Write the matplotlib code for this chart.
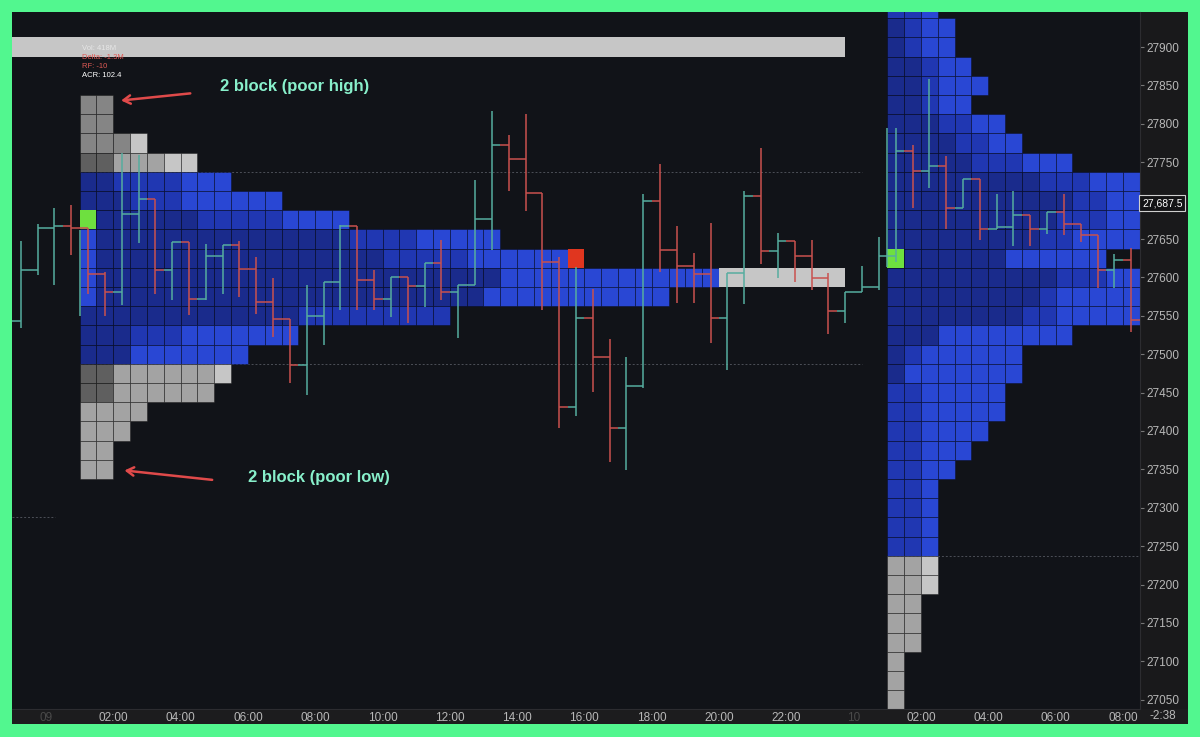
import numpy as np
import matplotlib
matplotlib.use("Agg")
import matplotlib.pyplot as plt
from matplotlib.patches import Rectangle

plt.rcParams['font.family'] = ['Liberation Sans', 'DejaVu Sans']

# ? Data ------------------------------------------------------------------
# 30 minute bars, hours counted from 00:00 on the 9th
bar_time = np.arange(-0.75, 32.5, 0.5)
opens = [27543, 27609, 27664, 27667, 27664, 27604, 27581, 27683, 27702, 27610, 27646, 27572,
         27628, 27642, 27611, 27568, 27546, 27486, 27550, 27594, 27667, 27597, 27572, 27600,
         27589, 27619, 27581, 27590, 27676, 27772, 27754, 27710, 27620, 27431, 27547, 27497,
         27404, 27458, 27700, 27636, 27615, 27605, 27547, 27606, 27706, 27634, 27647, 27628,
         27599, 27556, 27581, 27588, 27628, 27765, 27738, 27745, 27691, 27728, 27663, 27665,
         27681, 27663, 27685, 27669, 27655, 27610, 27623]
highs = [27647, 27670, 27690, 27694, 27664, 27607, 27762, 27759, 27702, 27646, 27646, 27643,
         27642, 27648, 27626, 27599, 27546, 27590, 27594, 27668, 27667, 27610, 27600, 27600,
         27619, 27649, 27590, 27727, 27817, 27786, 27813, 27710, 27627, 27614, 27585, 27520,
         27497, 27709, 27748, 27667, 27632, 27671, 27606, 27713, 27769, 27658, 27647, 27649,
         27606, 27581, 27615, 27652, 27795, 27773, 27858, 27758, 27728, 27728, 27709, 27713,
         27681, 27685, 27709, 27669, 27655, 27630, 27638]
lows = [27534, 27603, 27590, 27629, 27579, 27550, 27564, 27645, 27579, 27571, 27551, 27570,
        27579, 27575, 27553, 27523, 27462, 27447, 27512, 27558, 27557, 27557, 27549, 27541,
        27562, 27571, 27521, 27590, 27636, 27712, 27686, 27558, 27404, 27419, 27451, 27360,
        27349, 27456, 27607, 27567, 27567, 27515, 27479, 27565, 27618, 27599, 27594, 27584,
        27526, 27541, 27581, 27584, 27620, 27690, 27716, 27663, 27690, 27649, 27663, 27641,
        27641, 27657, 27655, 27646, 27586, 27586, 27529]
closes = [27609, 27664, 27667, 27664, 27604, 27581, 27683, 27702, 27610, 27646, 27572, 27628,
          27642, 27611, 27568, 27546, 27486, 27550, 27594, 27667, 27597, 27572, 27600, 27589,
          27619, 27581, 27590, 27676, 27772, 27754, 27710, 27620, 27431, 27547, 27497, 27404,
          27458, 27700, 27636, 27615, 27605, 27547, 27606, 27706, 27634, 27647, 27628, 27599,
          27556, 27581, 27588, 27628, 27765, 27738, 27745, 27691, 27728, 27663, 27665, 27681,
          27663, 27685, 27669, 27655, 27610, 27623, 27544]

# session open prints (time, low, high)
open_print_time = [1.0, 25.0]
open_print_low = [27550, 27614]
open_print_high = [27662, 27795]

# TPO profiles: row prices and run-length shading (level, count), level 3 = darkest
p1_start = 1.0
p1_val, p1_vah = 27487.5, 27737.5
p1_rows = [27825, 27800, 27775, 27750, 27725, 27700, 27675, 27650, 27625, 27600,
           27575, 27550, 27525, 27500, 27475, 27450, 27425, 27400, 27375, 27350]
p1_runs = [[(2, 2)], [(2, 2)], [(2, 3), (0, 1)], [(3, 2), (1, 3), (0, 2)],
           [(2, 2), (1, 4), (0, 3)], [(2, 3), (1, 3), (0, 6)], [(2, 7), (1, 5), (0, 4)],
           [(0, 1), (2, 15), (1, 4), (0, 5)], [(0, 1), (2, 17), (1, 5), (0, 6)],
           [(0, 1), (2, 24), (0, 13)], [(0, 1), (2, 23), (0, 11)], [(2, 13), (1, 9)],
           [(2, 3), (1, 3), (0, 7)], [(2, 3), (0, 7)], [(3, 2), (1, 6), (0, 1)],
           [(3, 2), (1, 6)], [(1, 4)], [(1, 3)], [(1, 2)], [(1, 2)]]

p2_start = 25.0
p2_val, p2_vah = 27237.5, 27987.5
p2_rows = [27950, 27925, 27900, 27875, 27850, 27825, 27800, 27775, 27750, 27725, 27700,
           27675, 27650, 27625, 27600, 27575, 27550, 27525, 27500, 27475, 27450, 27425,
           27400, 27375, 27350, 27325, 27300, 27275, 27250, 27225, 27200, 27175, 27150,
           27125, 27100, 27075, 27050]
p2_runs = [[(1, 2), (0, 1)], [(2, 1), (1, 1), (0, 2)], [(2, 1), (1, 1), (0, 2)],
           [(2, 2), (1, 1), (0, 2)], [(2, 2), (1, 1), (0, 3)], [(2, 2), (1, 1), (0, 2)],
           [(2, 3), (1, 2), (0, 2)], [(2, 4), (1, 2), (0, 2)], [(2, 5), (1, 3), (0, 3)],
           [(2, 9), (1, 3), (0, 3)], [(2, 11), (1, 2), (0, 2)], [(2, 10), (1, 3), (0, 2)],
           [(2, 9), (1, 2), (0, 4)], [(2, 7), (0, 6)], [(2, 10), (1, 3), (0, 2)],
           [(2, 9), (1, 1), (0, 5)], [(2, 8), (1, 2), (0, 5)], [(2, 3), (0, 8)],
           [(2, 1), (1, 1), (0, 6)], [(2, 1), (0, 7)], [(1, 2), (0, 5)], [(1, 2), (0, 5)],
           [(1, 2), (0, 4)], [(1, 2), (0, 3)], [(1, 2), (0, 2)], [(1, 2), (0, 1)],
           [(1, 2), (0, 1)], [(1, 2), (0, 1)], [(1, 2), (0, 1)], [(1, 2), (0, 1)],
           [(1, 2), (0, 1)], [(1, 2)], [(1, 2)], [(1, 2)], [(1, 1)], [(1, 1)], [(1, 1)]]

# marked TPO cells (time, price)
open_cells = [(1.0, 27675), (25.0, 27625)]
close_cells = [(15.5, 27625)]

# extended levels (price, start, end)
ext_price = [27900, 27600]
ext_start = [-1.01, 20.0]
ext_end = [23.75, 23.75]

# dotted value area lines (price, start, end)
va_line_price = [27737.5, 27487.5, 27237.5, 27287.5]
va_line_start = [1.0, 1.0, 25.0, -1.01]
va_line_end = [24.25, 24.25, 32.51, 0.27]

stats_text = ["Vol: 418M", "Delta: -1.3M", "RF: -10", "ACR: 102.4"]
x_tick_labels = ["09", "02:00", "04:00", "06:00", "08:00", "10:00", "12:00", "14:00", "16:00",
                 "18:00", "20:00", "22:00", "10", "02:00", "04:00", "06:00", "08:00"]
y_ticks = [p for p in range(27050, 27950, 50) if p != 27700]
last_price = 27687.5

# ? Styles ------------------------------------------------------------------
BG = '#111318'
BLUE = {3: '#16267c', 2: '#1a2b8c', 1: '#2037b2', 0: '#2947d4'}
GRAY = {3: '#5f5f5f', 2: '#858585', 1: '#a3a3a3', 0: '#c6c6c6'}
UP = '#56ad9f'
DOWN = '#c9514e'

W, H = 1200, 737
fig = plt.figure(figsize=(12, 7.37), dpi=100, facecolor='#52f78f')
fig.patches.append(Rectangle((12 / W, 13 / H), 1176 / W, 712 / H, transform=fig.transFigure,
                             facecolor=BG, edgecolor='none', zorder=-3))
fig.patches.append(Rectangle((1140 / W, 13 / H), 48 / W, 712 / H, transform=fig.transFigure,
                             facecolor='#19191b', edgecolor='none', zorder=-2))
fig.patches.append(Rectangle((12 / W, 13 / H), 1176 / W, 15 / H, transform=fig.transFigure,
                             facecolor='#1c1c1e', edgecolor='none', zorder=-2))

ax = fig.add_axes([12 / W, 28 / H, 1128 / W, 697 / H])
ax.set_zorder(1)
ax.set_facecolor(BG)
ax.set_xlim(-1.01, 32.51)
ax.set_ylim(27038, 27945.6)
for s in ax.spines.values():
    s.set_visible(False)
ax.spines['right'].set_visible(True)
ax.spines['right'].set_color('#2c2c30')
ax.spines['bottom'].set_visible(True)
ax.spines['bottom'].set_color('#2c2c30')


def draw_profile(start, rows, runs, val, vah):
    for price, row in zip(rows, runs):
        col = 0
        for level, n in row:
            for _ in range(n):
                face = BLUE[level] if val < price < vah else GRAY[level]
                ax.add_patch(Rectangle((start + col * 0.5, price - 12.5), 0.5, 25,
                                       facecolor=face, edgecolor=(0, 0, 0, 0.35),
                                       lw=0.7, zorder=2))
                col += 1


draw_profile(p1_start, p1_rows, p1_runs, p1_val, p1_vah)
draw_profile(p2_start, p2_rows, p2_runs, p2_val, p2_vah)

for t, p in open_cells:
    ax.add_patch(Rectangle((t, p - 12.5), 0.5, 25, facecolor='#6ee03f', edgecolor='none', zorder=2.5))
for t, p in close_cells:
    ax.add_patch(Rectangle((t, p - 12.5), 0.5, 25, facecolor='#e0361f', edgecolor='none', zorder=2.5))

for p, a, b in zip(ext_price, ext_start, ext_end):
    ax.barh(p, b - a, left=a, height=25, color='#c6c6c6', zorder=2)

for p, a, b in zip(va_line_price, va_line_start, va_line_end):
    ax.hlines(p, a, b, colors='#4c4f57', linestyles=(0, (2, 2)), lw=0.7, zorder=1.5)

# OHLC bars
for t, o, h, l, c in zip(bar_time, opens, highs, lows, closes):
    col = UP if c >= o else DOWN
    ax.vlines(t, l, h, colors=col, lw=1.1, zorder=3)
    ax.hlines(o, t - 0.25, t, colors=col, lw=1.1, zorder=3)
    ax.hlines(c, t, t + 0.25, colors=col, lw=1.1, zorder=3)
ax.vlines(open_print_time, open_print_low, open_print_high, colors=UP, lw=1.1, zorder=3)

# session stats
stat_colors = ['#e6e6e6', '#e05a55', '#e05a55', '#ffffff']
for i, (txt, col) in enumerate(zip(stats_text, stat_colors)):
    ax.text(1.07, 27897.5 - i * 11.7, txt, color=col, fontsize=5.5, va='center', ha='left', zorder=6)

# annotations
ax.annotate('', xy=(2.15, 27830), xytext=(4.37, 27840),
            arrowprops=dict(arrowstyle='->,head_length=0.5,head_width=0.3', color='#e04a4a', lw=1.8),
            zorder=6)
ax.annotate('', xy=(2.25, 27349), xytext=(5.02, 27336),
            arrowprops=dict(arrowstyle='->,head_length=0.5,head_width=0.3', color='#e04a4a', lw=1.8),
            zorder=6)
ax.text(7.4, 27848, '2 block (poor high)', color='#88f0cb', fontsize=12, fontweight='bold',
        ha='center', va='center', zorder=6)
ax.text(8.1, 27339, '2 block (poor low)', color='#88f0cb', fontsize=12, fontweight='bold',
        ha='center', va='center', zorder=6)

# axes
ax.yaxis.tick_right()
ax.set_yticks(y_ticks)
ax.set_yticklabels([str(v) for v in y_ticks])
ax.tick_params(axis='y', length=3, color='#777777', labelcolor='#b8b8b8', labelsize=8.5, pad=1.5)
ax.set_xticks(np.arange(0, 33, 2))
ax.set_xticklabels(x_tick_labels)
ax.tick_params(axis='x', length=0, labelcolor='#b8b8b8', labelsize=8.5, pad=2.5)
for lbl in ax.get_xticklabels():
    if lbl.get_text() in ('09', '10'):
        lbl.set_color('#4a4a4a')

fig.text(1142 / W, (H - 203) / H, f"{last_price:,.1f}", color='#ffffff', fontsize=7.5,
         ha='left', va='center', zorder=5,
         bbox=dict(boxstyle='square,pad=0.25', facecolor='#141416', edgecolor='#cfcfcf', lw=0.8))
fig.text(1163 / W, (H - 716) / H, '-2:38', color='#b8b8b8', fontsize=8.5, ha='center', va='center')

fig.savefig('out.png', dpi=100, facecolor=fig.get_facecolor())
